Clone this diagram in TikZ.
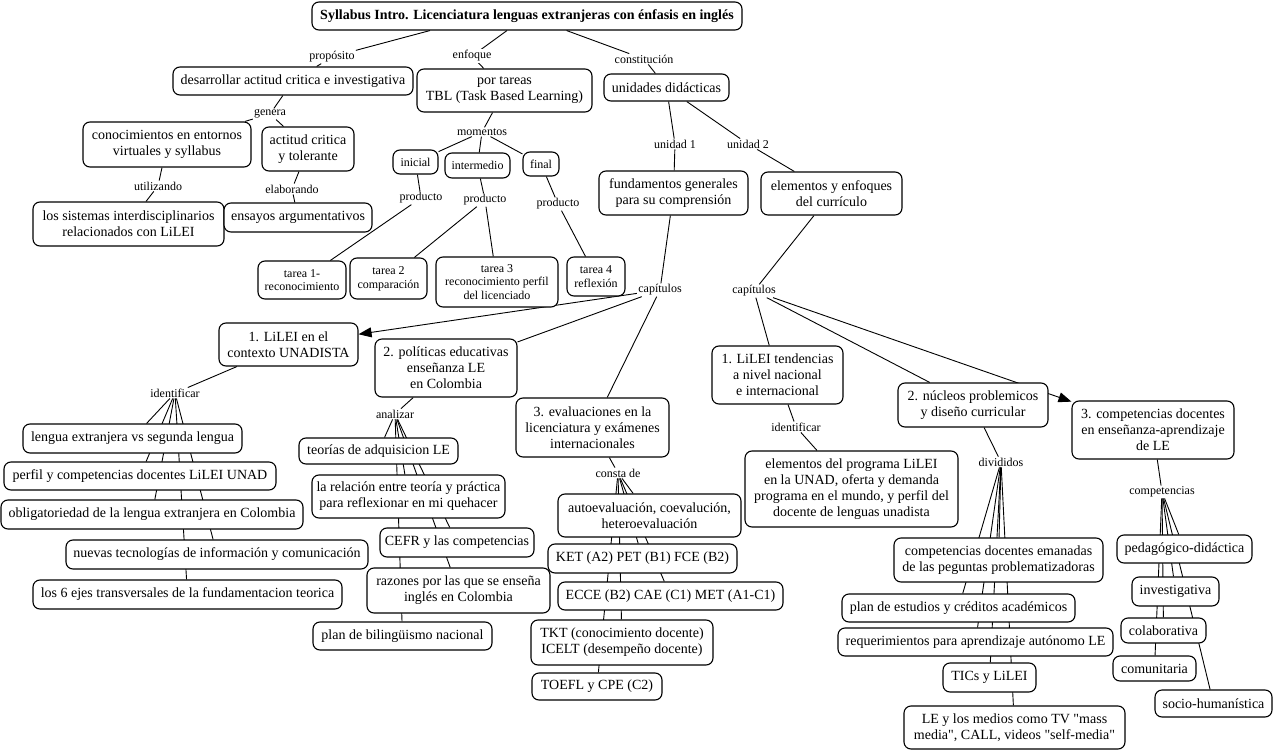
\documentclass[tikz,border=0pt]{standalone}
\usepackage{fontspec}
\setmainfont[Ligatures=TeXOff]{Liberation Serif}
\usetikzlibrary{arrows.meta,calc}
\pgfdeclarelayer{background}
\pgfsetlayers{background,main}
\tikzset{
  cbox/.style={draw, rounded corners=7pt, fill=white, line width=1.1pt, align=center,
    inner xsep=2pt, inner ysep=1pt, font=\fontsize{14}{16}\selectfont},
  smalltxt/.style={font=\fontsize{12}{13.7}\selectfont},
  lp/.style={fill=white, inner sep=1pt, font=\fontsize{12}{13.7}\selectfont},
  link/.style={line width=0.9pt},
  arr/.style={line width=0.9pt, -{Triangle[length=13pt,width=10pt]}}
}
\newcommand\bx[6]{\node[cbox,minimum width=#4pt,minimum height=#5pt,#6] (#1) at (#2,#3)}
\begin{document}
\begin{tikzpicture}[x=1pt,y=-1pt]
\useasboundingbox (0,0) rectangle (1275,752);
% concepts
\bx{title}{527}{16}{430}{28}{font=\bfseries\fontsize{14}{16}\selectfont} {Syllabus Intro. Licenciatura lenguas extranjeras con énfasis en inglés};
\bx{desarrollar}{293}{81}{240}{28}{} {desarrollar actitud critica e investigativa};
\bx{conoc}{167}{144.5}{168}{45}{} {conocimientos en entornos\\virtuales y syllabus};
\bx{actitud}{308}{149}{92}{44}{} {actitud critica\\y tolerante};
\bx{sistemas}{128.5}{224}{191}{44}{} {los sistemas interdisciplinarios\\relacionados con LiLEI};
\bx{ensayos}{298}{217.5}{148}{29}{} {ensayos argumentativos};
\bx{tareas}{504.5}{90.5}{175}{43}{} {por tareas\\TBL (Task Based Learning)};
\bx{unidades}{666.5}{87.5}{125}{27}{} {unidades didácticas};
\bx{inicial}{415.5}{162}{45}{24}{smalltxt} {inicial};
\bx{intermedio}{477.5}{165.5}{65}{25}{smalltxt} {intermedio};
\bx{final}{541}{164}{36}{24}{smalltxt} {final};
\bx{tarea1}{302}{280}{88}{38}{smalltxt} {tarea 1-\\reconocimiento};
\bx{tarea2}{388.5}{278.5}{77}{41}{smalltxt} {tarea 2\\comparación};
\bx{tarea3}{497}{282}{122}{50}{smalltxt} {tarea 3\\reconocimiento perfil\\del licenciado};
\bx{tarea4}{596}{276.5}{58}{39}{smalltxt} {tarea 4\\reflexión};
\bx{fund}{673.5}{193}{149}{44}{} {fundamentos generales\\para su comprensión};
\bx{elem}{831.5}{193.5}{141}{43}{} {elementos y enfoques\\del currículo};
\bx{lilei}{288.5}{344.5}{139}{43}{} {1. LiLEI en el\\contexto UNADISTA};
\bx{polit}{446}{368}{142}{58}{} {2. políticas educativas\\enseñanza LE\\en Colombia};
\bx{evalu}{592.5}{427.5}{153}{59}{} {3. evaluaciones en la\\licenciatura y exámenes\\internacionales};
\bx{lengua}{132.5}{438.5}{219}{29}{} {lengua extranjera vs segunda lengua};
\bx{perfil}{140}{476}{272}{28}{} {perfil y competencias docentes LiLEI UNAD};
\bx{oblig}{152}{514.5}{302}{29}{} {obligatoriedad de la lengua extranjera en Colombia};
\bx{nuevas}{217}{554.5}{302}{29}{} {nuevas tecnologías de información y comunicación};
\bx{ejes}{187.5}{594.5}{309}{29}{} {los 6 ejes transversales de la fundamentacion teorica};
\bx{teorias}{378.5}{451}{159}{26}{} {teorías de adquisicion LE};
\bx{relacion}{408.5}{496.5}{193}{43}{} {la relación entre teoría y práctica\\para reflexionar en mi quehacer};
\bx{cefr}{457}{542.5}{154}{29}{} {CEFR y las competencias};
\bx{razones}{458.5}{590.5}{183}{45}{} {razones por las que se enseña\\inglés en Colombia};
\bx{plan}{402.5}{636}{179}{28}{} {plan de bilingüismo nacional};
\bx{auto}{649.5}{515.5}{183}{43}{} {autoevaluación, coevalución,\\heteroevaluación};
\bx{ket}{642.5}{558.5}{189}{29}{} {KET (A2) PET (B1) FCE (B2)};
\bx{ecce}{670.5}{596}{225}{28}{} {ECCE (B2) CAE (C1) MET (A1-C1)};
\bx{tkt}{622}{642.5}{182}{45}{} {TKT (conocimiento docente)\\ICELT (desempeño docente)};
\bx{toefl}{597}{686.5}{130}{27}{} {TOEFL y CPE (C2)};
\bx{tend}{777.5}{375}{131}{58}{} {1. LiLEI tendencias\\a nivel nacional\\e internacional};
\bx{progr}{851.5}{489}{213}{76}{} {elementos del programa LiLEI\\en la UNAD, oferta y demanda\\programa en el mundo, y perfil del\\docente de lenguas unadista};
\bx{nucleos}{973}{405}{150}{44}{} {2. núcleos problemicos\\y diseño curricular};
\bx{comp}{1153}{430}{162}{58}{} {3. competencias docentes\\en enseñanza-aprendizaje\\de LE};
\bx{emanadas}{998.5}{560}{209}{44}{} {competencias docentes emanadas\\de las peguntas problematizadoras};
\bx{estudios}{958.5}{608}{233}{28}{} {plan de estudios y créditos académicos};
\bx{reque}{975.5}{642}{275}{28}{} {requerimientos para aprendizaje autónomo LE};
\bx{tics}{989.5}{677.5}{93}{29}{} {TICs y LiLEI};
\bx{medios}{1014.5}{727.5}{221}{43}{} {LE y los medios como TV "mass\\media", CALL, videos "self-media"};
\bx{pedag}{1184.5}{549}{135}{28}{} {pedagógico-didáctica};
\bx{invest}{1175.5}{591.5}{87}{29}{} {investigativa};
\bx{colab}{1163.5}{630.5}{85}{25}{} {colaborativa};
\bx{comun}{1154.5}{668.5}{83}{25}{} {comunitaria};
\bx{socio}{1213.5}{703.5}{117}{27}{} {socio-humanística};
% linking phrases
\node[lp] (lprop) at (332,57) {propósito};
\node[lp] (lenf) at (472,56) {enfoque};
\node[lp] (lconst) at (644,59) {constitución};
\node[lp] (lgen) at (270,114) {genera};
\node[lp] (lutil) at (158,186) {utilizando};
\node[lp] (lelab) at (292,189) {elaborando};
\node[lp] (lmom) at (482,132) {momentos};
\node[lp] (lprod1) at (421,198) {producto};
\node[lp] (lprod2) at (485,200) {producto};
\node[lp] (lprod3) at (558,204) {producto};
\node[lp] (lu1) at (675,144) {unidad 1};
\node[lp] (lu2) at (748,144) {unidad 2};
\node[lp] (lcap1) at (660,290) {capítulos};
\node[lp] (lcap2) at (754,291) {capítulos};
\node[lp] (lid1) at (175,393) {identificar};
\node[lp] (lanal) at (395,414) {analizar};
\node[lp] (lconsta) at (618,473) {consta de};
\node[lp] (lid2) at (796,427) {identificar};
\node[lp] (ldiv) at (1001,462) {divididos};
\node[lp] (lcomp) at (1162,492) {competencias};
% connectors
\begin{pgfonlayer}{background}
\draw[link] ($(title.south)+(-97,0)$) -- (lprop.north east); \draw[link] (lprop) -- (desarrollar);
\draw[link] (title) -- (lenf); \draw[link] (lenf) -- (tareas);
\draw[link] (title) -- (lconst); \draw[link] (lconst) -- (unidades);
\draw[link] (desarrollar) -- (lgen); \draw[link] (lgen) -- (conoc); \draw[link] (lgen) -- (actitud);
\draw[link] (conoc) -- (lutil); \draw[link] (lutil) -- (sistemas);
\draw[link] (actitud) -- (lelab); \draw[link] (lelab) -- (ensayos);
\draw[link] (tareas) -- (lmom);
\foreach \t in {inicial,intermedio,final} \draw[link] (lmom) -- (\t);
\draw[link] (inicial) -- (lprod1); \draw[link] (lprod1) -- (tarea1);
\draw[link] (intermedio) -- (lprod2); \draw[link] (lprod2) -- (tarea2); \draw[link] (lprod2) -- (tarea3);
\draw[link] (final) -- (lprod3); \draw[link] (lprod3) -- (tarea4);
\draw[link] (unidades) -- (lu1); \draw[link] (lu1) -- (fund);
\draw[link] (unidades) -- (lu2); \draw[link] (lu2) -- (elem);
\draw[link] (fund) -- (lcap1); \draw[arr] (lcap1) -- (lilei);
\draw[link] (lcap1) -- (polit); \draw[link] (lcap1) -- (evalu);
\draw[link] (elem) -- (lcap2); \draw[link] (lcap2) -- (tend);
\draw[link] (lcap2) -- (nucleos); \draw[arr] (lcap2) -- (comp);
\draw[link] (lilei) -- (lid1);
\foreach \t in {lengua,perfil,oblig,nuevas,ejes} \draw[link] (lid1) -- (\t);
\draw[link] (polit) -- (lanal);
\foreach \t in {teorias,relacion,cefr,razones,plan} \draw[link] (lanal) -- (\t);
\draw[link] (evalu) -- (lconsta);
\foreach \t in {auto,ket,ecce,tkt,toefl} \draw[link] (lconsta) -- (\t);
\draw[link] (tend) -- (lid2); \draw[link] (lid2) -- (progr);
\draw[link] (nucleos) -- (ldiv);
\foreach \t in {emanadas,estudios,reque,tics,medios} \draw[link] (ldiv) -- (\t);
\draw[link] (comp) -- (lcomp);
\foreach \t in {pedag,invest,colab,comun,socio} \draw[link] (lcomp) -- (\t);
\end{pgfonlayer}
\end{tikzpicture}
\end{document}
